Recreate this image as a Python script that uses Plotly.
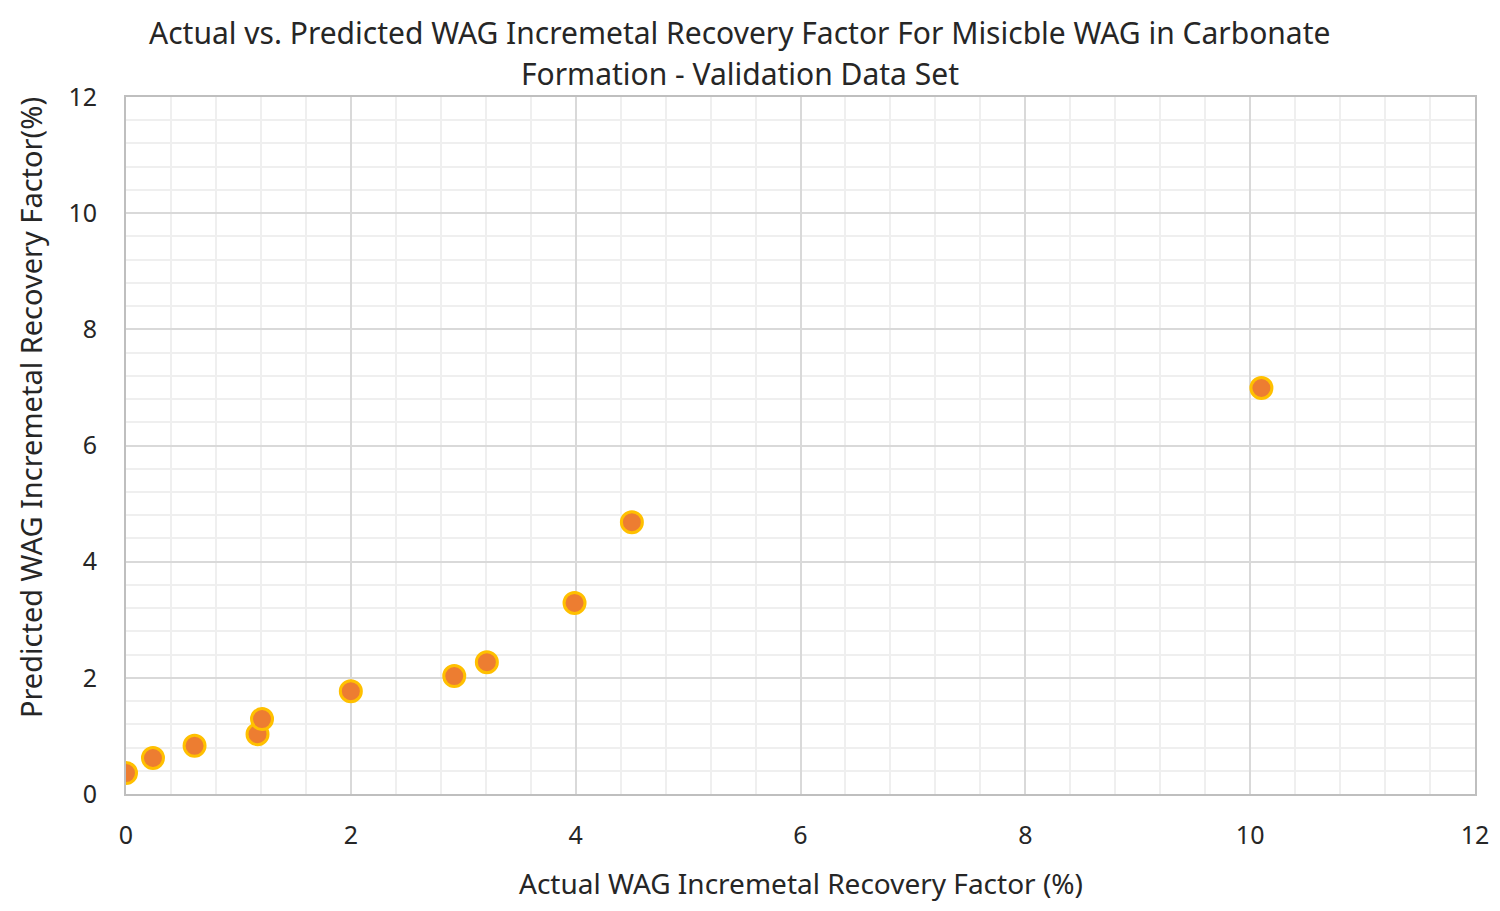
import plotly.graph_objects as go

# validation set: actual vs predicted incremental recovery factor (%)
actual = [0.0, 0.24, 0.61, 1.17, 1.21, 2.0, 2.92, 3.21, 3.99, 4.5, 10.1]
predicted = [0.36, 0.62, 0.83, 1.03, 1.29, 1.77, 2.03, 2.27, 3.29, 4.68, 6.99]

tick_vals = [0, 2, 4, 6, 8, 10, 12]
tick_text = [str(v) for v in tick_vals]

title_lines = [
    "Actual vs. Predicted WAG Incremetal Recovery Factor For Misicble WAG in Carbonate",
    "Formation - Validation Data Set",
]

FONT = "Noto Sans"
TXT = "#262626"

fig = go.Figure()
fig.add_trace(go.Scatter(
    x=actual, y=predicted, mode="markers",
    marker=dict(size=21, color="#ED7D31", line=dict(color="#FFC000", width=3)),
    showlegend=False,
))

axis_common = dict(
    range=[0, 12],
    tickvals=tick_vals,
    ticktext=tick_text,
    automargin=False,
    ticklabeloverflow="allow",
    showline=True, linecolor="#bfbfbf", linewidth=2, mirror=True,
    showgrid=True, gridcolor="#d9d9d9", gridwidth=2,
    zeroline=False,
    minor=dict(dtick=0.4, showgrid=True, gridcolor="#efefef", gridwidth=2),
    tickfont=dict(family=FONT, size=25, color=TXT),
    ticks="",
)

fig.update_xaxes(**axis_common, ticklabelstandoff=18)
fig.update_yaxes(**axis_common, ticklabelstandoff=22)

annotations = [
    dict(text=title_lines[0], x=0.455, y=1.093),
    dict(text=title_lines[1], x=0.455, y=1.034),
]
for a in annotations:
    a.update(xref="paper", yref="paper", xanchor="center", yanchor="middle",
             showarrow=False, font=dict(family=FONT, size=30, color=TXT))

annotations += [
    dict(text="Actual WAG Incremetal Recovery Factor (%)",
         x=0.5, xref="paper", xanchor="center",
         y=-0.127, yref="paper", yanchor="middle",
         showarrow=False, font=dict(family=FONT, size=28, color=TXT)),
    dict(text="Predicted WAG Incremetal Recovery Factor(%)",
         x=-0.0712, xref="paper", xanchor="center",
         y=0.555, yref="paper", yanchor="middle", textangle=-90,
         showarrow=False, font=dict(family=FONT, size=29, color=TXT)),
]

# the page body has an ~8px margin, so keep the figure inside the window
fig.update_layout(
    width=1484, height=895,
    margin=dict(l=118, r=17, t=89, b=109),
    plot_bgcolor="white", paper_bgcolor="white",
    font=dict(family=FONT, color=TXT),
    annotations=annotations,
)

fig.write_html("out.html")
